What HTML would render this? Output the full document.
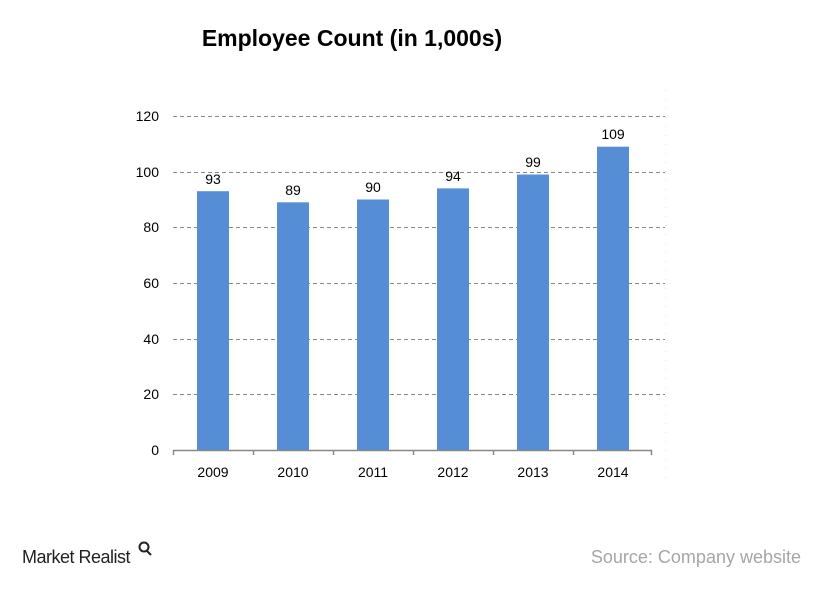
<!DOCTYPE html>
<html><head><meta charset="utf-8"><style>body{margin:0;background:#fff}</style></head>
<body>
<svg width="840" height="600" xmlns="http://www.w3.org/2000/svg" font-family="Liberation Sans, Arial, sans-serif">
<rect width="840" height="600" fill="#fff"/>
<text x="352" y="46" font-size="23" font-weight="bold" text-anchor="middle" fill="#000">Employee Count (in 1,000s)</text>
<g stroke="#888" stroke-width="1" stroke-dasharray="4,3">
<line x1="173" y1="116.5" x2="665" y2="116.5"/>
<line x1="173" y1="172.5" x2="665" y2="172.5"/>
<line x1="173" y1="227.5" x2="665" y2="227.5"/>
<line x1="173" y1="283.5" x2="665" y2="283.5"/>
<line x1="173" y1="339.5" x2="665" y2="339.5"/>
<line x1="173" y1="394.5" x2="665" y2="394.5"/>
</g>
<line x1="665.5" y1="90" x2="665.5" y2="480" stroke="#ddd" stroke-dasharray="1,8"/>
<g font-size="14" fill="#000" text-anchor="end">
<text x="159" y="121">120</text><text x="159" y="177">100</text><text x="159" y="232">80</text>
<text x="159" y="288">60</text><text x="159" y="344">40</text><text x="159" y="399">20</text><text x="159" y="455">0</text>
</g>
<g fill="#558ed5">
<rect x="197" y="191.2" width="32" height="258.8"/>
<rect x="277" y="202.3" width="32" height="247.7"/>
<rect x="357" y="199.5" width="32" height="250.5"/>
<rect x="437" y="188.4" width="32" height="261.6"/>
<rect x="517" y="174.5" width="32" height="275.5"/>
<rect x="597" y="146.7" width="32" height="303.3"/>
</g>
<g stroke="#888" stroke-width="1.5">
<line x1="173" y1="450.5" x2="652" y2="450.5"/>
<line x1="173.5" y1="450" x2="173.5" y2="455"/><line x1="253.5" y1="450" x2="253.5" y2="455"/>
<line x1="333.5" y1="450" x2="333.5" y2="455"/><line x1="413.5" y1="450" x2="413.5" y2="455"/>
<line x1="493.5" y1="450" x2="493.5" y2="455"/><line x1="573.5" y1="450" x2="573.5" y2="455"/>
<line x1="651.5" y1="450" x2="651.5" y2="455"/>
</g>
<g font-size="14" fill="#000" text-anchor="middle">
<text x="213" y="184">93</text><text x="293" y="195">89</text><text x="373" y="192">90</text>
<text x="453" y="181">94</text><text x="533" y="167">99</text><text x="613" y="139">109</text>
<text x="213" y="477">2009</text><text x="293" y="477">2010</text><text x="373" y="477">2011</text>
<text x="453" y="477">2012</text><text x="533" y="477">2013</text><text x="613" y="477">2014</text>
</g>
<text x="22" y="563" font-size="18" fill="#222" letter-spacing="-0.5">Market Realist</text>
<g stroke="#222" stroke-width="2" fill="none"><circle cx="144" cy="547" r="4.5"/><line x1="147" y1="551" x2="151" y2="555"/></g>
<text x="801" y="563" font-size="18" fill="#a6a6a6" text-anchor="end">Source: Company website</text>
</svg>
</body></html>
